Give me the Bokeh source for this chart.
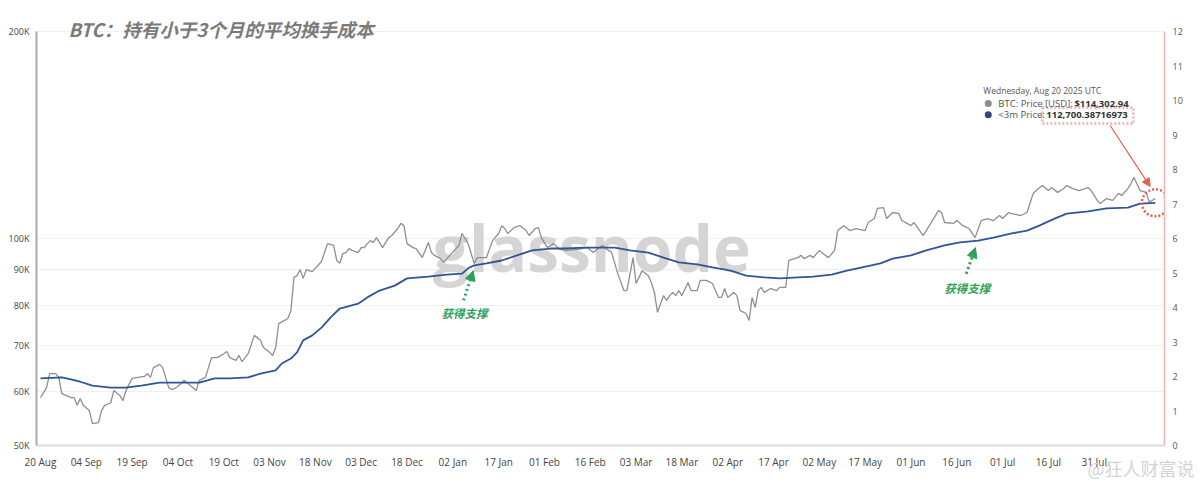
from datetime import datetime
from bokeh.plotting import figure
from bokeh.models import (Range1d, LinearAxis, LinearScale, FixedTicker, CustomJSTickFormatter,
                          Label, Arrow, NormalHead, BoxAnnotation, Title)
from bokeh.embed import file_html
from bokeh.resources import INLINE

START = datetime(2024, 8, 20)

# BTC price (USD, thousands), day offset from 20 Aug 2024
btc_day = [0, 2, 3, 5, 6, 7, 10, 11, 12, 13,
           14, 16, 17, 19, 20, 21, 23, 24, 26, 27,
           28, 30, 32, 34, 35, 36, 37, 39, 40, 42,
           43, 44, 46, 47, 48, 51, 52, 54, 55, 56,
           58, 60, 61, 62, 64, 65, 66, 68, 70, 72,
           73, 75, 76, 77, 78, 81, 82, 83, 84, 85,
           86, 87, 89, 92, 94, 96, 97, 98, 99, 100,
           101, 102, 104, 105, 106, 107, 108, 109, 110, 112,
           114, 115, 117, 118, 119, 120, 122, 123, 125, 127,
           128, 129, 131, 132, 134, 137, 138, 140, 141, 142,
           143, 146, 148, 150, 151, 152, 153, 155, 157, 159,
           160, 162, 163, 164, 166, 168, 170, 172, 176, 179,
           181, 183, 184, 186, 187, 189, 191, 192, 194, 195,
           197, 199, 200, 201, 202, 204, 205, 206, 207, 208,
           209, 210, 212, 213, 215, 216, 218, 220, 222, 223,
           224, 225, 227, 228, 229, 231, 232, 233, 234, 235,
           236, 237, 239, 241, 242, 244, 245, 248, 249, 250,
           252, 253, 255, 257, 258, 260, 261, 263, 265, 267,
           270, 271, 273, 274, 276, 277, 279, 281, 282, 285,
           286, 289, 291, 294, 295, 296, 299, 300, 302, 304,
           306, 308, 310, 312, 314, 315, 317, 318, 321, 323,
           325, 326, 328, 330, 331, 333, 335, 336, 338, 340,
           343, 344, 346, 347, 349, 351, 353, 354, 356, 357,
           358, 360, 362, 363, 365]
btc_price_k = [58.7, 60.7, 63.6, 63.6, 62.8, 59.5, 58.7, 58.7, 57.2, 58.5,
               57.2, 56.2, 53.8, 54.0, 56.2, 57.2, 57.7, 60.1, 59.1, 58.1,
               60.1, 62.6, 62.8, 63.0, 63.6, 62.8, 64.9, 65.6, 64.9, 60.7,
               60.3, 60.5, 61.5, 62.2, 61.7, 60.1, 62.2, 62.8, 64.9, 67.1,
               67.1, 68.0, 68.5, 67.1, 66.5, 67.6, 66.2, 68.0, 72.3, 71.1,
               69.4, 68.3, 67.6, 69.4, 75.2, 76.5, 78.6, 87.8, 88.3, 90.1,
               87.5, 90.1, 89.5, 92.6, 98.3, 97.7, 92.9, 92.0, 95.1, 95.4,
               96.7, 96.1, 95.4, 97.0, 97.0, 98.3, 99.3, 98.7, 100.3, 97.0,
               100.3, 101.0, 103.4, 105.2, 104.4, 98.3, 97.0, 96.7, 93.8, 98.7,
               95.4, 94.5, 93.5, 92.3, 94.5, 97.7, 101.7, 98.3, 95.1, 92.0,
               93.8, 93.8, 99.3, 101.7, 104.4, 103.4, 101.7, 103.7, 104.4, 102.7,
               101.0, 103.4, 103.7, 100.3, 97.0, 98.3, 96.4, 96.1, 96.4, 97.0,
               95.4, 97.0, 97.7, 96.1, 95.4, 88.9, 84.0, 84.0, 93.8, 86.0,
               89.8, 88.3, 86.3, 83.5, 78.1, 82.6, 81.3, 82.6, 83.5, 82.6,
               84.0, 82.6, 86.3, 84.0, 84.0, 86.9, 86.9, 86.0, 82.1, 82.1,
               84.6, 82.1, 83.5, 82.6, 78.6, 77.8, 76.0, 82.1, 79.4, 84.0,
               84.9, 83.5, 84.6, 84.0, 84.9, 84.9, 92.9, 93.8, 94.5, 93.5,
               94.5, 93.8, 96.1, 94.5, 93.8, 96.1, 102.7, 104.4, 102.7, 103.4,
               102.7, 105.5, 106.9, 110.6, 110.9, 106.9, 109.1, 108.7, 106.2, 104.4,
               105.5, 101.0, 104.4, 109.8, 109.1, 105.5, 105.2, 106.2, 104.4, 103.4,
               100.3, 106.2, 106.9, 106.2, 108.0, 106.9, 109.1, 108.7, 108.0, 109.1,
               116.3, 117.4, 119.4, 117.4, 118.6, 116.7, 118.2, 119.4, 118.2, 117.4,
               118.6, 117.4, 113.6, 112.4, 114.3, 113.6, 116.3, 115.5, 118.2, 120.2,
               122.7, 117.4, 116.7, 113.0, 114.3]

# <3m holders average cost (USD, thousands)
sth_day = [0, 7, 10, 13, 17, 23, 28, 33, 39, 52,
           57, 62, 68, 72, 77, 79, 82, 84, 86, 89,
           92, 95, 98, 104, 107, 111, 116, 120, 127, 133,
           138, 140, 142, 146, 151, 156, 161, 167, 172, 178,
           183, 188, 193, 199, 204, 209, 215, 220, 226, 231,
           237, 242, 248, 253, 259, 264, 269, 275, 279, 285,
           290, 296, 301, 307, 312, 318, 323, 327, 332, 336,
           343, 349, 356, 360, 365]
sth_price_k = [62.6, 62.8, 62.4, 61.9, 61.1, 60.7, 60.7, 61.1, 61.7, 61.7,
               62.6, 62.6, 62.8, 63.6, 64.3, 65.8, 66.9, 68.3, 71.1, 72.3,
               74.2, 76.8, 79.1, 80.4, 82.1, 84.0, 85.4, 87.5, 88.0, 88.6,
               88.9, 90.5, 91.4, 92.0, 92.9, 94.5, 96.1, 96.7, 96.7, 97.0,
               97.0, 97.0, 96.1, 95.4, 93.8, 92.3, 91.7, 90.8, 89.8, 88.3,
               87.8, 87.5, 87.8, 88.0, 88.6, 89.8, 90.8, 92.0, 93.5, 94.5,
               96.1, 97.7, 98.7, 99.3, 100.3, 101.7, 102.7, 104.4, 106.9, 108.7,
               109.5, 110.6, 110.9, 112.4, 112.7]

x_tick_labels = ["20 Aug", "04 Sep", "19 Sep", "04 Oct", "19 Oct", "03 Nov", "18 Nov",
                 "03 Dec", "18 Dec", "02 Jan", "17 Jan", "01 Feb", "16 Feb", "03 Mar",
                 "18 Mar", "02 Apr", "17 Apr", "02 May", "17 May", "01 Jun", "16 Jun",
                 "01 Jul", "16 Jul", "31 Jul"]
left_ticks_k = [50, 60, 70, 80, 90, 100, 200]
right_ticks = list(range(0, 13))

DAY_MS = 86400000
START_MS = int((START - datetime(1970, 1, 1)).total_seconds() * 1000)


def t(d):
    return START_MS + d * DAY_MS


btc_x = [t(d) for d in btc_day]
btc_y = [v * 1000 for v in btc_price_k]
sth_x = [t(d) for d in sth_day]
sth_y = [v * 1000 for v in sth_price_k]

FONT = "Open Sans"
CJK = "Noto Sans CJK SC"

p = figure(width=1200, height=486, x_axis_type="datetime", y_axis_type="log",
           x_range=Range1d(t(-1.3), t(368)), y_range=Range1d(50000, 208900),
           output_backend="svg", toolbar_location=None,
           min_border_left=36, min_border_right=36, min_border_top=18, min_border_bottom=41)
p.outline_line_color = None
p.background_fill_color = "white"
p.border_fill_color = "white"

# left (log) axis
ly = p.yaxis[0]
ly.ticker = FixedTicker(ticks=[v * 1000 for v in left_ticks_k])
ly.formatter = CustomJSTickFormatter(code="return Math.round(tick/1000) + 'K';")
ly.bounds = (50000, 200000)
ly.axis_line_color = "#a9a9a9"
ly.axis_line_width = 2
ly.major_tick_line_color = None
ly.minor_tick_line_color = None
ly.major_tick_out = 0
ly.minor_tick_out = 0
ly.major_label_text_font = FONT
ly.major_label_text_font_size = "9px"
ly.major_label_text_color = "#444444"
ly.major_label_standoff = 7

# right (linear) axis
p.extra_y_ranges = {"right": Range1d(0, 12.377)}
p.extra_y_scales = {"right": LinearScale()}
ry = LinearAxis(y_range_name="right", ticker=FixedTicker(ticks=right_ticks))
ry.bounds = (0, 12)
ry.axis_line_color = "#f3b3b0"
ry.axis_line_width = 1.5
ry.major_tick_line_color = None
ry.minor_tick_line_color = None
ry.major_tick_out = 0
ry.minor_tick_out = 0
ry.major_label_text_font = FONT
ry.major_label_text_font_size = "9px"
ry.major_label_text_color = "#555555"
ry.major_label_standoff = 8
p.add_layout(ry, "right")

# bottom axis
xt = [t(15 * i) for i in range(len(x_tick_labels))]
bx = p.xaxis[0]
bx.ticker = FixedTicker(ticks=xt)
bx.major_label_overrides = {k: lab for k, lab in zip(xt, x_tick_labels)}
bx.axis_line_color = "#dcdcdc"
bx.axis_line_width = 2
bx.major_tick_line_color = None
bx.minor_tick_line_color = None
bx.major_tick_out = 0
bx.minor_tick_out = 0
bx.major_label_text_font = FONT
bx.major_label_text_font_size = "10px"
bx.major_label_text_color = "#444444"
bx.major_label_standoff = 9

# repost watermark (bottom right, over the axis labels)
p.add_layout(Title(text="@狂人财富说", align="right", vertical_align="top",
                   text_font=CJK, text_font_size="18px", text_font_style="normal",
                   text_color="#d4d4d4", standoff=-34, offset=-30), "below")

p.xgrid.grid_line_color = None
p.ygrid.grid_line_color = "#f0f0f0"
p.ygrid.grid_line_width = 1

# watermark
p.add_layout(Label(x=t(180.5), y=97000, text="glassnode", text_font=FONT,
                   text_font_size="64px", text_font_style="bold", text_color="#d5d5d5",
                   text_align="center", text_baseline="alphabetic", level="underlay"))

# series
p.line(btc_x, btc_y, line_color="#8f8f8f", line_width=1.3)
p.line(sth_x, sth_y, line_color="#2e5597", line_width=1.8)

# title
p.add_layout(Label(x=t(9.2), y=12.06, y_range_name="right",
                   text="BTC：持有小于3个月的平均换手成本", text_font=CJK,
                   text_font_size="18.5px", text_font_style="bold italic",
                   text_color="#7a7a7a", text_baseline="middle", text_align="left"))

# tooltip block
p.add_layout(Label(x=t(308.7), y=10.29, y_range_name="right",
                   text="Wednesday, Aug 20 2025 UTC", text_font=FONT,
                   text_font_size="8.5px", text_color="#555555", text_baseline="middle"))
p.scatter([t(310.3)], [9.91], y_range_name="right", size=7, marker="circle",
          fill_color="#8c8c8c", line_color=None)
p.scatter([t(310.3)], [9.59], y_range_name="right", size=7, marker="circle",
          fill_color="#2f4a7a", line_color=None)
p.add_layout(Label(x=t(313.6), y=9.91, y_range_name="right",
                   text="BTC: Price [USD]:", text_font=FONT,
                   text_font_size="9.5px", text_color="#555555", text_baseline="middle"))
p.add_layout(Label(x=t(338.5), y=9.91, y_range_name="right",
                   text="$114,302.94", text_font=FONT, text_font_style="bold",
                   text_font_size="9.5px", text_color="#333333", text_baseline="middle"))
p.add_layout(Label(x=t(313.6), y=9.59, y_range_name="right",
                   text="<3m Price:", text_font=FONT,
                   text_font_size="9.5px", text_color="#555555", text_baseline="middle"))
p.add_layout(Label(x=t(329.3), y=9.59, y_range_name="right",
                   text="112,700.38716973", text_font=FONT, text_font_style="bold",
                   text_font_size="9.5px", text_color="#333333", text_baseline="middle"))
p.add_layout(BoxAnnotation(left=t(328.0), right=t(357.8), top=155100, bottom=147000,
                           fill_alpha=0, line_color="#b0261c", line_width=3,
                           line_dash="2 2"))

# red arrow and dotted circle on the last value
p.add_layout(Arrow(x_start=t(350.2), y_start=146000, x_end=t(363.3), y_end=119000,
                   line_color="#e8604c", line_width=1.2,
                   end=NormalHead(size=8, fill_color="#e8604c", line_color="#e8604c")))
p.scatter([sth_x[-1]], [sth_y[-1]], size=27, marker="circle", fill_color=None,
          line_color="#e8604c", line_width=2.5, line_dash="2 2")

# green support arrows
GREEN = "#2ea15a"
for (d0, p0, d1, p1, dt, pt) in [(138.5, 81300, 141.7, 89800, 138.8, 77800),
                                  (303.1, 88900, 306.1, 97000, 303.4, 84600)]:
    p.add_layout(Arrow(x_start=t(d0), y_start=p0, x_end=t(d1), y_end=p1,
                       line_color=GREEN, line_width=3, line_dash="2 3",
                       end=NormalHead(size=10, fill_color=GREEN, line_color=GREEN)))
    p.add_layout(Label(x=t(dt), y=pt, text="获得支撑", text_font=CJK,
                       text_font_size="11.5px", text_font_style="bold italic",
                       text_color=GREEN, text_align="center", text_baseline="middle"))

open("out.html", "w").write(file_html(p, INLINE))
